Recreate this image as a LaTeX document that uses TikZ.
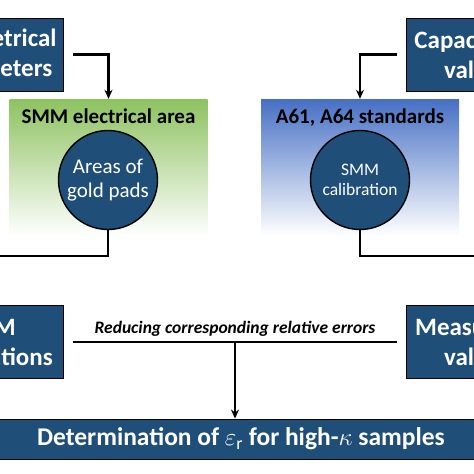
\documentclass[tikz,border=0pt]{standalone}
\usepackage{fontspec}
\setmainfont{Carlito}
\usetikzlibrary{positioning,arrows.meta}

\definecolor{boxblue}{RGB}{31,78,121}
\definecolor{greentop}{RGB}{141,194,96}
\definecolor{bluetop}{RGB}{70,112,196}

\begin{document}
\begin{tikzpicture}[
    x=1pt,
    y=-1pt,
    line cap=butt,
    line join=miter,
    block/.style={
        draw=black,
        line width=0.9pt,
        fill=boxblue,
        text=white,
        align=center,
        minimum width=141pt,
        minimum height=73pt,
        font=\fontsize{25}{30}\selectfont\bfseries
    },
    area/.style={
        minimum width=198pt,
        minimum height=137pt,
        inner sep=0pt,
        bottom color=white
    },
    heading/.style={
        inner sep=0pt,
        text=black,
        font=\fontsize{21}{25}\selectfont\bfseries
    },
    disc/.style={
        circle,
        draw=black,
        line width=1.4pt,
        fill=boxblue,
        text=white,
        align=center,
        minimum size=99pt,
        inner sep=0pt
    },
    conn/.style={
        line width=2.2pt,
        -{Stealth[length=9pt,width=8pt]}
    },
    link/.style={
        line width=2.2pt
    }
]
    % Canvas (the sketch is a crop, boxes run past the edges)
    \useasboundingbox (0,0) rectangle (474,474);
    \clip (0,0) rectangle (474,474);

    % Input boxes
    \node[block] (geo)  at (-7,54.5)  {Geometrical\\parameters};
    \node[block] (cap)  at (477,54.5) {Capacitance\\values};
    \node[block] (fem)  at (-7,342)   {FEM\\simulations};
    \node[block] (meas) at (477,342)  {Measured C\\values};

    % Shaded areas with their discs
    \node[area, top color=greentop] (elarea) at (108.5,167.5) {};
    \node[area, top color=bluetop]  (stds)   at (360,167.5)   {};

    \node[heading, below=10pt of elarea.north] {SMM electrical area};
    \node[heading, below=10pt of stds.north]   {A61, A64 standards};

    \node[disc, font=\fontsize{21}{24}\selectfont] (pads)  at (108,180) {Areas of\\gold pads};
    \node[disc, font=\fontsize{17.5}{20}\selectfont] (calib) at (360,180) {SMM\\calibration};

    % Result bar
    \node[block, minimum width=500pt, minimum height=40pt,
          font=\fontsize{25.5}{30}\selectfont\bfseries] (det) at (241,439)
        {Determination of $\varepsilon_\mathrm{r}$ for high-$\kappa$ samples};

    % Connectors
    \draw[conn, shorten <=9pt] (geo.east) -| (elarea.north);
    \draw[conn, shorten <=9pt] (cap.west) -| (stds.north);
    \draw[link] (pads.south) -- ++(0,26) -| (fem.north);
    \draw[link] (calib.south) -- ++(0,26) -| (meas.north);

    \draw[link, shorten <=9pt, shorten >=9pt] (fem.east) --
        node[above=1pt, font=\fontsize{17.5}{20}\selectfont\bfseries\itshape]
        {Reducing corresponding relative errors}
        coordinate[midway] (mid) (meas.west);
    \draw[conn] (mid) -- (mid |- det.north);
\end{tikzpicture}
\end{document}
